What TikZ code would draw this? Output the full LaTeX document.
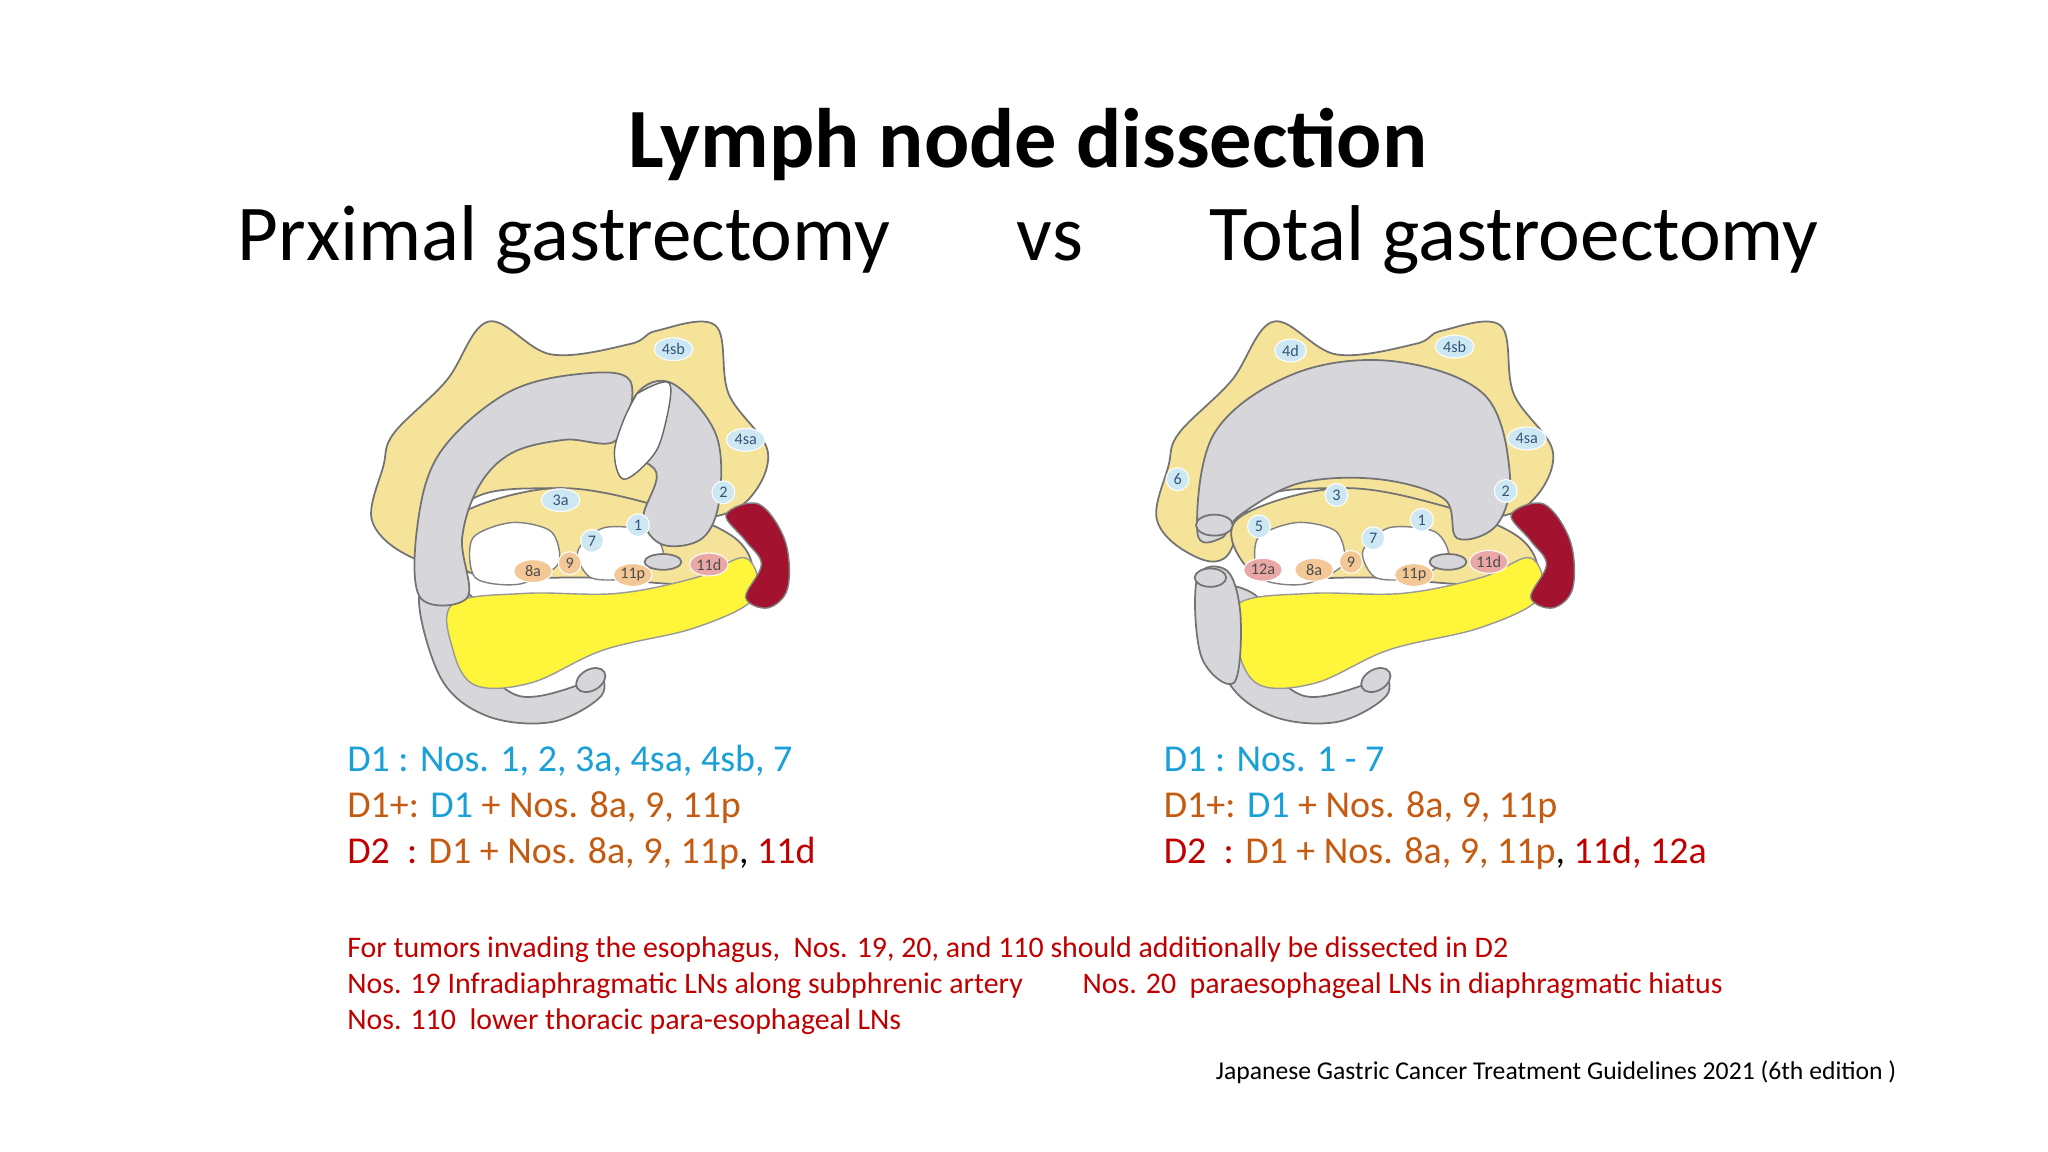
\documentclass[tikz,border=0pt]{standalone}
\usepackage{fontspec}
\setmainfont{Carlito}
\definecolor{cblue}{HTML}{1AA0D8}
\definecolor{corange}{HTML}{C55A11}
\definecolor{cred}{HTML}{C00000}
\definecolor{fat}{HTML}{F6E39A}
\definecolor{organ}{HTML}{D7D7DB}
\definecolor{panc}{HTML}{FFF53A}
\definecolor{spleen}{HTML}{A3122E}
\definecolor{lnb}{HTML}{CDE7F3}
\definecolor{lno}{HTML}{F3C796}
\definecolor{lnp}{HTML}{E9A8A6}
\definecolor{lntxt}{HTML}{335577}
\tikzset{
 fatf/.style={fill=fat,draw=black!55,line width=0.5pt},
 orgf/.style={fill=organ,draw=black!55,line width=0.5pt},
 pancf/.style={fill=panc,draw=black!40,line width=0.4pt},
 spl/.style={fill=spleen,draw=black!50,line width=0.4pt},
 lnbs/.style={ellipse,fill=lnb,draw=white,line width=0.3pt,inner sep=0pt,minimum width=11pt,minimum height=6.5pt,font=\fontsize{4.6}{5}\selectfont,text=lntxt},
 lnss/.style={minimum width=6.5pt},
 lnos/.style={lnbs,fill=lno,text=black!70},
 lnps/.style={lnbs,fill=lnp,text=black!70},
 dtext/.style={anchor=base west,inner sep=0pt,font=\fontsize{10.8}{13}\selectfont},
 ntext/.style={anchor=base west,inner sep=0pt,font=\fontsize{8.5}{10}\selectfont,text=cred},
}
\usetikzlibrary{shapes.geometric}
\newcommand\anatomy{%
 \fill[fatf] plot[smooth cycle,tension=0.6] coordinates{(300,330)(340,290)(372,245)(420,270)(480,262)(500,252)(545,248)(555,300)(585,345)(565,385)(520,395)(470,380)(420,372)(360,380)(335,425)(305,420)(283,395)(292,355)};
 \fill[fatf] plot[smooth cycle,tension=0.6] coordinates{(345,395)(420,372)(500,385)(560,410)(570,440)(520,445)(450,440)(380,440)(350,430)};
 \fill[white,draw=black!50] plot[smooth cycle] coordinates{(360,410)(390,398)(420,405)(425,430)(395,445)(362,440)};
 \fill[white,draw=black!50] plot[smooth cycle] coordinates{(440,420)(460,402)(495,405)(505,425)(480,440)(450,440)};
 \fill[orgf] plot[smooth cycle,tension=0.6] coordinates{(320,450)(360,455)(365,500)(395,530)(440,522)(455,510)(458,530)(420,550)(370,545)(335,515)};
 \draw[orgf] (450,518) ellipse[x radius=12,y radius=8,rotate=30];
 \fill[pancf] plot[smooth cycle,tension=0.6] coordinates{(345,460)(400,452)(470,452)(530,440)(568,425)(575,455)(530,478)(460,495)(405,520)(362,522)(345,495)};
 \fill[spl] plot[smooth cycle,tension=0.6] coordinates{(553,392)(578,384)(598,412)(600,448)(585,463)(568,455)(580,430)(568,412)};
 \draw[orgf] (505,428) ellipse[x radius=14,y radius=6];
}
\begin{document}
\begin{tikzpicture}[x=0.01313cm,y=-0.01313cm]
\useasboundingbox (0,0) rectangle (1560,877);
\fill[white] (0,0) rectangle (1560,877);
\node[font=\fontsize{24}{28}\selectfont\bfseries] (title) at (783,110) {Lymph node dissection};
\node[font=\fontsize{22.5}{28}\selectfont] (sub) at (783,183) {Prximal gastrectomy\hspace{1.6em}vs\hspace{1.6em}Total gastroectomy};
% left diagram
\anatomy
\fill[orgf] plot[smooth cycle,tension=0.6] coordinates{(320,455)(318,400)(335,345)(385,300)(440,285)(480,290)(470,335)(430,335)(390,345)(365,370)(352,410)(356,455)};
\fill[orgf] plot[smooth cycle,tension=0.6] coordinates{(485,300)(512,292)(545,330)(548,380)(535,410)(505,415)(490,395)(500,360)(475,340)};
\draw[black!60,fill=white] plot[smooth,tension=0.6] coordinates{(485,300)(510,292)(505,330)(495,350)(475,365)(468,345)(475,320)(485,300)};
\node[lnbs] (l4sb) at (513,266) {4sb};
\node[lnbs] (l4sa) at (568,335) {4sa};
\node[lnbs,lnss] (l2) at (551,375) {2};
\node[lnbs] (l3a) at (427,381) {3a};
\node[lnbs,lnss] (l7) at (451,412) {7};
\node[lnbs,lnss] (l1) at (486,400) {1};
\node[lnos] (l8a) at (406,435) {8a};
\node[lnos,lnss] (l9) at (434,429) {9};
\node[lnos] (l11p) at (482,438) {11p};
\node[lnps] (l11d) at (540,430) {11d};
% right diagram
\begin{scope}[shift={(598,0)}]
\anatomy
\end{scope}
\fill[orgf] plot[smooth cycle,tension=0.6] coordinates{(912,405)(925,330)(985,285)(1060,275)(1130,300)(1150,360)(1140,400)(1110,410)(1100,380)(1050,365)(990,368)(945,392)(930,410)};
\fill[orgf] plot[smooth cycle,tension=0.6] coordinates{(912,440)(935,435)(945,470)(940,520)(915,500)};
\draw[orgf] (925,400) ellipse[x radius=14,y radius=8];
\draw[orgf] (922,440) ellipse[x radius=12,y radius=7];
\node[lnbs,minimum width=9pt] (r4d) at (983,267) {4d};
\node[lnbs] (r4sb) at (1108,264) {4sb};
\node[lnbs] (r4sa) at (1163,334) {4sa};
\node[lnbs,lnss] (r6) at (897,365) {6};
\node[lnbs,lnss] (r3) at (1018,377) {3};
\node[lnbs,lnss] (r2) at (1147,374) {2};
\node[lnbs,lnss] (r5) at (959,401) {5};
\node[lnbs,lnss] (r7) at (1046,410) {7};
\node[lnbs,lnss] (r1) at (1083,396) {1};
\node[lnps] (r12a) at (962,434) {12a};
\node[lnos] (r8a) at (1001,434) {8a};
\node[lnos,lnss] (r9) at (1029,428) {9};
\node[lnos] (r11p) at (1077,438) {11p};
\node[lnps] (r11d) at (1134,428) {11d};
% text
\node[dtext,text=cblue] (ld1) at (264,588) {D1 : Nos. 1, 2, 3a, 4sa, 4sb, 7};
\node[dtext,text=corange] (ld1p) at (264,623) {D1+: \textcolor{cblue}{D1} + Nos. 8a, 9, 11p};
\node[dtext,text=cred] (ld2) at (264,658) {D2\ \ : \textcolor{corange}{D1 + Nos. 8a, 9, 11p}\textcolor{black}{,} 11d};
\node[dtext,text=cblue] (rd1) at (886,588) {D1 : Nos. 1 - 7};
\node[dtext,text=corange] (rd1p) at (886,623) {D1+: \textcolor{cblue}{D1} + Nos. 8a, 9, 11p};
\node[dtext,text=cred] (rd2) at (886,658) {D2\ \ : \textcolor{corange}{D1 + Nos. 8a, 9, 11p}\textcolor{black}{,} 11d, 12a};
\node[ntext] (n1) at (264,729) {For tumors invading the esophagus,\ \ Nos. 19, 20, and 110 should additionally be dissected in D2};
\node[ntext] (n2) at (264,757) {Nos. 19 Infradiaphragmatic LNs along subphrenic artery\hspace{2em}Nos. 20\ \ paraesophageal LNs in diaphragmatic hiatus};
\node[ntext] (n3) at (264,784) {Nos. 110\ \ lower thoracic para-esophageal LNs};
\node[anchor=base east,inner sep=0pt,font=\fontsize{7.3}{9}\selectfont] (cite) at (1445,822) {Japanese Gastric Cancer Treatment Guidelines 2021 (6th edition )};
\end{tikzpicture}
\end{document}
